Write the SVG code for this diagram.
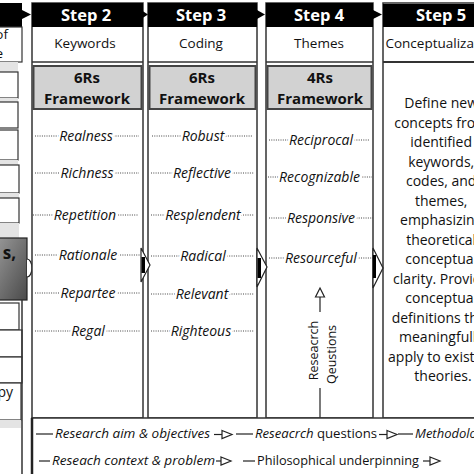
<svg xmlns="http://www.w3.org/2000/svg" width="474" height="474" viewBox="0 0 474 474">
<defs>
<style>
.frame{fill:#fff;stroke:#333;stroke-width:1.5}
.hdr{fill:#000}
.ht{font-family:"Open Sans",sans-serif;font-weight:bold;font-size:16.5px;fill:#fff;text-anchor:middle}
.st{font-family:"Open Sans",sans-serif;font-size:13.5px;fill:#111;text-anchor:middle}
.gbox{fill:#d2d2d2;stroke:#444;stroke-width:2}
.gt{font-family:"Open Sans",sans-serif;font-weight:bold;font-size:15px;fill:#111;text-anchor:middle}
.dot{stroke:#444;stroke-width:1;stroke-dasharray:1 1.3}
.it{font-family:"Open Sans",sans-serif;font-style:italic;font-size:14px;fill:#111;text-anchor:middle;stroke:#fff;stroke-width:5;paint-order:stroke;stroke-linejoin:round}
.bt{font-family:"Open Sans",sans-serif;font-size:14px;fill:#111;text-anchor:middle}
.ft{font-family:"Open Sans",sans-serif;font-size:13px;fill:#111}
.fi{font-style:italic}
.lb{fill:#fff;stroke:#333;stroke-width:1.2}
.strip{fill:#e4e4e4}
.ln{stroke:#222;stroke-width:1.2;fill:none}
.tri{fill:#fff;stroke:#222;stroke-width:1.2}
.sep{stroke:#333;stroke-width:1.5}
</style>
<linearGradient id="dg" x1="0" y1="0" x2="1" y2="1"><stop offset="0" stop-color="#9a9a9a"/><stop offset="1" stop-color="#4a4a4a"/></linearGradient>
</defs>
<rect width="474" height="474" fill="#fff"/>

<g id="step1">
 <rect x="-5" y="3" width="27" height="24" class="hdr"/>
 <polygon points="22,10 31,14.5 22,19" class="hdr"/>
 <rect x="-5" y="27" width="27" height="35" class="lb"/>
 <text x="8" y="39" class="st" text-anchor="end" style="text-anchor:end">of</text>
 <text x="3" y="58" class="st" style="text-anchor:end">e</text>
 <rect x="-5" y="62" width="23" height="10" class="strip"/>
 <rect x="-5" y="72" width="23" height="26" class="lb"/>
 <rect x="-5" y="98" width="23" height="4" class="strip"/>
 <rect x="-5" y="102" width="23" height="26" class="lb"/>
 <rect x="-5" y="130" width="23" height="30" class="lb"/>
 <rect x="-5" y="160" width="23" height="5" class="strip"/>
 <rect x="-5" y="165" width="24" height="28" class="lb"/>
 <rect x="-5" y="193" width="24" height="5" class="strip"/>
 <rect x="-5" y="198" width="24" height="25" class="lb"/>
 <rect x="-5" y="223" width="24" height="15" class="strip"/>
 <rect x="-5" y="238" width="32" height="62" fill="url(#dg)" stroke="#222" stroke-width="1.2"/>
 <text x="16" y="259" font-family="Open Sans, sans-serif" font-weight="bold" font-size="17" fill="#111" text-anchor="end">s,</text>
 <path d="M27,259 A5,9 0 0 1 27,277" class="tri"/>
 <rect x="-5" y="303" width="24" height="27" class="lb"/>
 <rect x="-5" y="330" width="27" height="27" class="lb"/>
 <rect x="-5" y="357" width="27" height="26" class="lb"/>
 <rect x="-5" y="383" width="26" height="37" class="lb"/>
 <text x="13" y="397" class="st" style="text-anchor:end;font-size:14px">py</text>
 <rect x="-5" y="420" width="26" height="8" class="strip"/>
 <line x1="22" y1="300" x2="22" y2="474" class="sep"/>
</g>

<g id="step2">
 <rect x="32" y="3" width="111" height="415" class="frame"/>
 <rect x="32" y="3" width="111" height="24" class="hdr"/>
 <text x="86" y="21" class="ht">Step 2</text>
 <text x="85" y="48" class="st">Keywords</text>
 <line x1="32" y1="62" x2="143" y2="62" class="sep"/>
 <rect x="33.5" y="66" width="108" height="43" class="gbox"/>
 <text x="87" y="83" class="gt">6Rs</text>
 <text x="87" y="104" class="gt">Framework</text>
 <line x1="35" y1="136" x2="139" y2="136" class="dot"/>
 <text x="86" y="141" class="it">Realness</text>
 <line x1="35" y1="173" x2="139" y2="173" class="dot"/>
 <text x="87" y="178" class="it">Richness</text>
 <line x1="33" y1="215" x2="138" y2="215" class="dot"/>
 <text x="85" y="220" class="it">Repetition</text>
 <line x1="35" y1="255" x2="140" y2="255" class="dot"/>
 <text x="88" y="260" class="it">Rationale</text>
 <line x1="35" y1="293" x2="140" y2="293" class="dot"/>
 <text x="88" y="298" class="it">Repartee</text>
 <line x1="35" y1="331" x2="140" y2="331" class="dot"/>
 <text x="88" y="336" class="it">Regal</text>
</g>

<g id="step3">
 <rect x="148" y="3" width="109" height="415" class="frame"/>
 <rect x="148" y="3" width="109" height="24" class="hdr"/>
 <text x="201" y="21" class="ht">Step 3</text>
 <text x="201" y="48" class="st">Coding</text>
 <line x1="148" y1="62" x2="257" y2="62" class="sep"/>
 <rect x="149.5" y="66" width="106" height="43" class="gbox"/>
 <text x="202" y="83" class="gt">6Rs</text>
 <text x="202" y="104" class="gt">Framework</text>
 <line x1="152" y1="136" x2="253" y2="136" class="dot"/>
 <text x="203" y="141" class="it">Robust</text>
 <line x1="151" y1="173" x2="254" y2="173" class="dot"/>
 <text x="202" y="178" class="it">Reflective</text>
 <line x1="151" y1="215" x2="254" y2="215" class="dot"/>
 <text x="203" y="220" class="it">Resplendent</text>
 <line x1="151" y1="256" x2="254" y2="256" class="dot"/>
 <text x="203" y="261" class="it">Radical</text>
 <line x1="151" y1="294" x2="254" y2="294" class="dot"/>
 <text x="202" y="299" class="it">Relevant</text>
 <line x1="151" y1="331" x2="254" y2="331" class="dot"/>
 <text x="201" y="336" class="it">Righteous</text>
</g>

<g id="step4">
 <rect x="266" y="3" width="107" height="415" class="frame"/>
 <rect x="266" y="3" width="107" height="24" class="hdr"/>
 <text x="319" y="21" class="ht">Step 4</text>
 <text x="319" y="48" class="st">Themes</text>
 <line x1="266" y1="62" x2="373" y2="62" class="sep"/>
 <rect x="267.5" y="66" width="104" height="43" class="gbox"/>
 <text x="320" y="83" class="gt">4Rs</text>
 <text x="320" y="104" class="gt">Framework</text>
 <line x1="269" y1="140" x2="370" y2="140" class="dot"/>
 <text x="321" y="145" class="it">Reciprocal</text>
 <line x1="268" y1="177" x2="372" y2="177" class="dot"/>
 <text x="319.5" y="182" class="it">Recognizable</text>
 <line x1="269" y1="218" x2="373" y2="218" class="dot"/>
 <text x="321" y="223" class="it">Responsive</text>
 <line x1="269" y1="258" x2="373" y2="258" class="dot"/>
 <text x="321" y="263" class="it">Resourceful</text>
</g>

<g id="research-questions">
 <polygon points="320,288 324.5,297 315.5,297" class="tri"/>
 <line x1="320" y1="297" x2="320" y2="312" class="ln"/>
 <line x1="320" y1="388" x2="320" y2="418" class="ln"/>
 <text transform="translate(318,350.5) rotate(-90)" font-family="Open Sans, sans-serif" font-size="12.5" fill="#111" text-anchor="middle">Reseacrch</text>
 <text transform="translate(336,354.5) rotate(-90)" font-family="Open Sans, sans-serif" font-size="12.5" fill="#111" text-anchor="middle">Qeustions</text>
</g>

<g id="step5">
 <rect x="383" y="3" width="100" height="415" class="frame"/>
 <rect x="383" y="4" width="100" height="23" class="hdr"/>
 <text x="441" y="21" class="ht">Step 5</text>
 <text x="442" y="48" class="st">Conceptualization</text>
 <line x1="383" y1="62" x2="480" y2="62" stroke="#333" stroke-width="2"/>
 <text class="bt">
  <tspan x="443" y="108">Define new</tspan>
  <tspan x="443" y="127.5">concepts from</tspan>
  <tspan x="443" y="147">identified</tspan>
  <tspan x="443" y="166.5">keywords,</tspan>
  <tspan x="443" y="186">codes, and</tspan>
  <tspan x="443" y="205.5">themes,</tspan>
  <tspan x="443" y="225">emphasizing</tspan>
  <tspan x="443" y="244.5">theoretical</tspan>
  <tspan x="443" y="264">conceptual</tspan>
  <tspan x="443" y="283.5">clarity. Provide</tspan>
  <tspan x="443" y="303">conceptual</tspan>
  <tspan x="443" y="322.5">definitions that</tspan>
  <tspan x="443" y="342">meaningfully</tspan>
  <tspan x="443" y="361.5">apply to existing</tspan>
  <tspan x="443" y="381">theories.</tspan>
 </text>
</g>

<g id="connectors">
 <polygon points="141,10 148,14.5 141,19" class="hdr"/>
 <polygon points="257,10 265,14.5 257,19" class="hdr"/>
 <polygon points="373,10 382,14.5 373,19" class="hdr"/>
 <polygon points="141,248 150,265 141,282" class="tri"/>
 <rect x="141.5" y="257" width="3.5" height="16" fill="#000"/>
 <polygon points="257,248 267,267 257,287" class="tri"/>
 <rect x="257.5" y="258" width="3.5" height="20" fill="#000"/>
 <polygon points="373,248 383,268 373,288" class="tri"/>
 <rect x="373" y="255" width="3" height="23" fill="#000"/>
</g>

<g id="bottom">
 <rect x="32" y="418" width="460" height="70" fill="#fff" stroke="#333" stroke-width="1.5"/>
 <line x1="32" y1="418" x2="32" y2="474" stroke="#222" stroke-width="2.5"/>
 <line x1="36" y1="434" x2="53" y2="434" class="ln"/>
 <text x="55" y="438" class="ft fi" textLength="155" lengthAdjust="spacingAndGlyphs">Research aim &amp; objectives</text>
 <line x1="214" y1="434.5" x2="222" y2="434.5" class="ln"/>
 <polygon points="222,430.5 232,434.5 222,438.5" class="tri"/>
 <line x1="236" y1="434" x2="253" y2="434" class="ln"/>
 <text x="255" y="438" class="ft" textLength="122" lengthAdjust="spacingAndGlyphs"><tspan class="fi">Reseacrch</tspan> questions</text>
 <line x1="379" y1="434.5" x2="387" y2="434.5" class="ln"/>
 <polygon points="387,430.5 397,434.5 387,438.5" class="tri"/>
 <line x1="398" y1="434" x2="413" y2="434" class="ln"/>
 <text x="415" y="438" class="ft fi">Methodology</text>
 <line x1="39" y1="461" x2="50" y2="461" class="ln"/>
 <text x="52" y="465" class="ft fi" textLength="163" lengthAdjust="spacingAndGlyphs">Reseach context &amp; problem</text>
 <line x1="216" y1="461" x2="221" y2="461" class="ln"/>
 <polygon points="221,457 231,461 221,465" class="tri"/>
 <line x1="243" y1="461" x2="255" y2="461" class="ln"/>
 <text x="257" y="465" class="ft" textLength="162" lengthAdjust="spacingAndGlyphs">Philosophical underpinning</text>
 <line x1="423" y1="461" x2="430" y2="461" class="ln"/>
 <polygon points="430,457 440,461 430,465" class="tri"/>
</g>
</svg>
